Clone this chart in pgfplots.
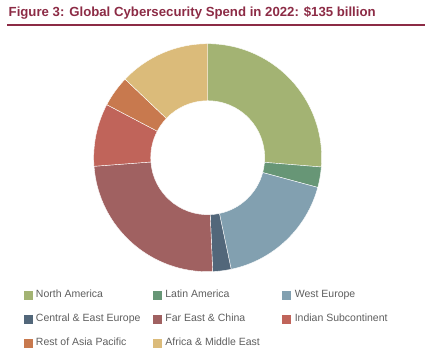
\documentclass[border=0pt]{standalone}
\usepackage{fontspec}
\setmainfont{Liberation Sans}
\usepackage{pgfplots}
\usepackage{pgfplotstable}
\pgfplotsset{compat=1.18}
\usetikzlibrary{calc}
\definecolor{cNA}{HTML}{A3B373}
\definecolor{cLA}{HTML}{679676}
\definecolor{cWE}{HTML}{82A0B0}
\definecolor{cCEE}{HTML}{52677A}
\definecolor{cFEC}{HTML}{A06161}
\definecolor{cIS}{HTML}{C0645A}
\definecolor{cRAP}{HTML}{C8794E}
\definecolor{cAME}{HTML}{DBBB7A}
\definecolor{titlered}{HTML}{8C2B45}
\definecolor{legendgray}{HTML}{5E5E5E}

\pgfplotstableread{
region pct col
NA   26.3 cNA
LA   2.9  cLA
WE   17.5 cWE
CEE  2.6  cCEE
FEC  24.5 cFEC
IS   8.9  cIS
RAP  4.4  cRAP
AME  12.9 cAME
}\donutdata

\begin{document}
\begin{tikzpicture}
\path[use as bounding box] (0,0) rectangle (435bp,362bp);
\node[anchor=base west, inner sep=0pt, font=\fontsize{13.2bp}{15bp}\selectfont\bfseries, text=titlered] at (8.5bp,345bp) {Figure 3: Global Cybersecurity Spend in 2022: \$135 billion};
\draw[titlered, line width=2.2bp] (7.3bp,336.6bp) -- (424.7bp,336.6bp);
\begin{axis}[
  at={(207.7bp,204.3bp)}, anchor=center,
  scale only axis, width=228bp, height=228bp,
  xmin=-1, xmax=1, ymin=-1, ymax=1,
  hide axis, clip=false,
  legend columns=3,
  legend image code/.code={\fill[#1] (0bp,-4bp) rectangle (8bp,4bp);},
  legend style={at={(-0.3075,-0.082)}, anchor=north west, draw=none, fill=none,
    inner sep=0pt, outer sep=0pt, column sep=0pt, row sep=14.2bp,
    font=\fontsize{10.5bp}{12bp}\selectfont, text=legendgray,
    nodes={inner sep=0pt, text height=7.6bp, text depth=2.2bp},
    /tikz/every odd column/.append style={column sep=4bp},
    /tikz/every even column/.append style={column sep=0pt}},
  legend cell align=left,
]
\pgfmathsetmacro{\cum}{0}
\pgfplotstablegetrowsof{\donutdata}
\pgfmathtruncatemacro{\N}{\pgfplotsretval-1}
\pgfplotsforeachungrouped \i in {0,...,\N}{
  \pgfplotstablegetelem{\i}{pct}\of\donutdata \let\p\pgfplotsretval
  \pgfplotstablegetelem{\i}{col}\of\donutdata \let\c\pgfplotsretval
  \pgfmathsetmacro{\a}{90-3.6*\cum}
  \pgfmathsetmacro{\b}{90-3.6*(\cum+\p)}
  \edef\temp{\noexpand\fill[\c, draw=white, line width=0.4pt] ($(axis cs:0,0)+(\a:114bp)$) arc[start angle=\a, end angle=\b, radius=114bp] -- ($(axis cs:0,0)+(\b:57bp)$) arc[start angle=\b, end angle=\a, radius=57bp] -- cycle;}
  \temp
  \pgfmathsetmacro{\cum}{\cum+\p}
}
\addlegendimage{cNA}\addlegendentry{\makebox[117bp][l]{North America}}
\addlegendimage{cLA}\addlegendentry{\makebox[117bp][l]{Latin America}}
\addlegendimage{cWE}\addlegendentry{\makebox[117bp][l]{West Europe}}
\addlegendimage{cCEE}\addlegendentry{\makebox[117bp][l]{Central \& East Europe}}
\addlegendimage{cFEC}\addlegendentry{\makebox[117bp][l]{Far East \& China}}
\addlegendimage{cIS}\addlegendentry{\makebox[117bp][l]{Indian Subcontinent}}
\addlegendimage{cRAP}\addlegendentry{\makebox[117bp][l]{Rest of Asia Pacific}}
\addlegendimage{cAME}\addlegendentry{\makebox[117bp][l]{Africa \& Middle East}}
\end{axis}
\end{tikzpicture}
\end{document}
